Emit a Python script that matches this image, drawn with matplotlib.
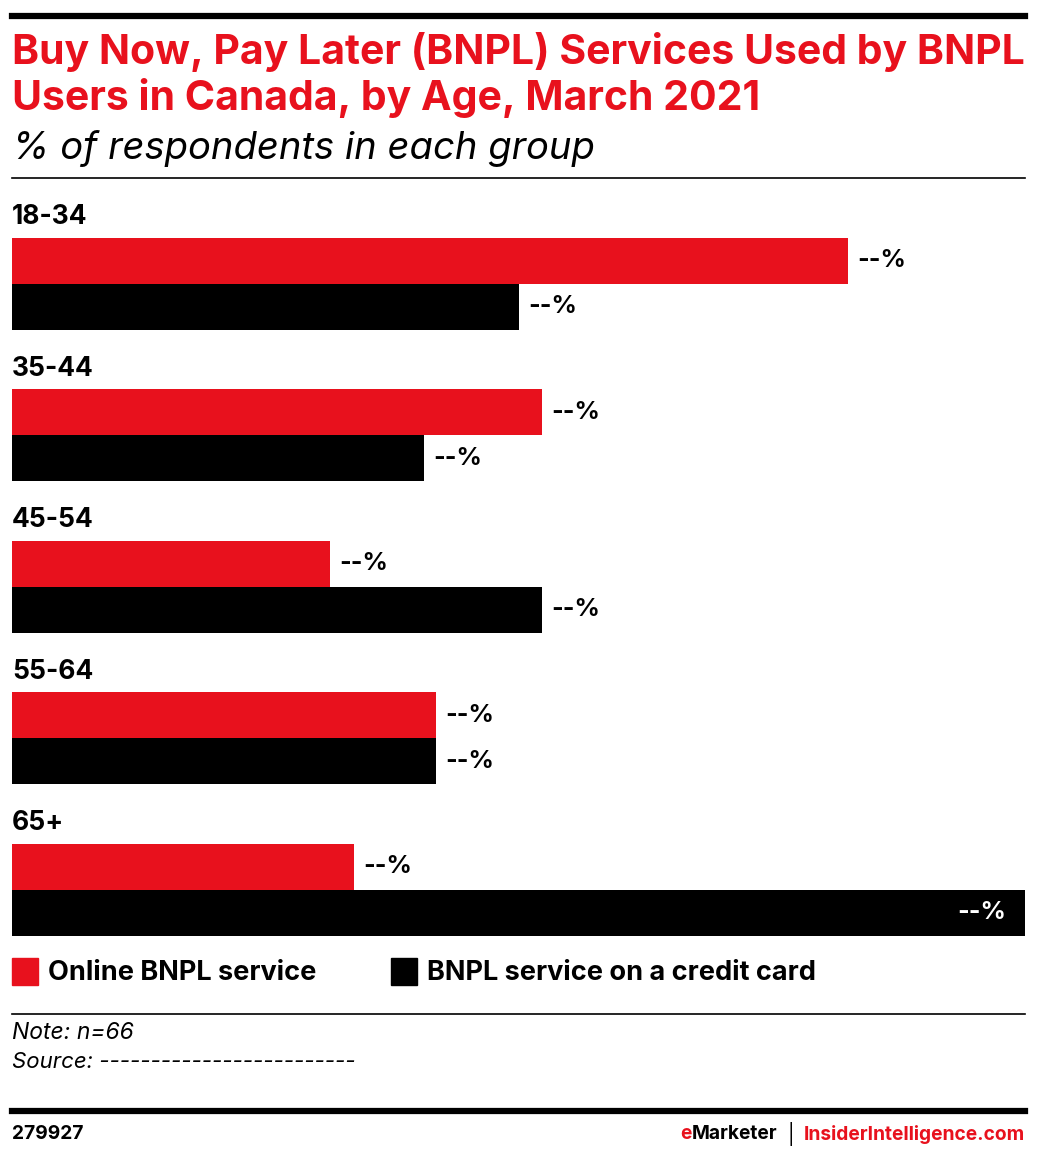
import matplotlib
matplotlib.use('Agg')
import matplotlib.pyplot as plt
import numpy as np

# values are hidden in the source ("--%")
ages = ['18-34', '35-44', '45-54', '55-64', '65+']
online_bnpl = [35.5, 22.5, 13.5, 18.0, 14.5]
credit_card_bnpl = [21.5, 17.5, 22.5, 18.0, 43.0]
series_names = ['Online BNPL service', 'BNPL service on a credit card']

RED = '#e8111d'
BLACK = '#000000'
W, H = 1038, 1158
FONT = 'Inter'


def fx(px):
    return px / W


def fy(py):
    return 1 - py / H


fig = plt.figure(figsize=(W / 100, H / 100), dpi=100)

# header
fig.add_artist(plt.Line2D([fx(12), fx(1025)], [fy(16), fy(16)], color=BLACK, lw=4.5))
fig.text(fx(12), fy(64), 'Buy Now, Pay Later (BNPL) Services Used by BNPL',
         color=RED, fontsize=29.5, fontweight='bold', family=FONT, va='baseline')
fig.text(fx(12), fy(110), 'Users in Canada, by Age, March 2021',
         color=RED, fontsize=29.5, fontweight='bold', family=FONT, va='baseline')
fig.text(fx(12), fy(159), '% of respondents in each group',
         color=BLACK, fontsize=27.5, style='italic', family=FONT, va='baseline')
fig.add_artist(plt.Line2D([fx(12), fx(1025)], [fy(178), fy(178)], color=BLACK, lw=1.2))

# bars
ax = fig.add_axes([fx(12), fy(940), fx(1025) - fx(12), (940 - 190) / H])
y = np.arange(len(ages))
bh = 46 / 151.5
ax.barh(y - bh / 2, online_bnpl, height=bh, color=RED, align='center')
ax.barh(y + bh / 2, credit_card_bnpl, height=bh, color=BLACK, align='center')
xmax = 43.0
ax.set_xlim(0, xmax)
ax.set_ylim(4 + 50.5 / 151.5, -93.5 / 151.5)
ax.axis('off')

for i, age in enumerate(ages):
    ax.text(0, i - 66.5 / 151.5, age, fontsize=19, fontweight='bold', family=FONT,
            va='center', ha='left')
    for val, off in ((online_bnpl[i], -bh / 2), (credit_card_bnpl[i], bh / 2)):
        if val >= xmax * 0.95:
            ax.text(val - 0.8, i + off, '--%', fontsize=18, fontweight='bold', family=FONT,
                    va='center', ha='right', color='white')
        else:
            ax.text(val + 0.4, i + off, '--%', fontsize=18, fontweight='bold', family=FONT,
                    va='center', ha='left', color=BLACK)

# legend
for x0, color, name in ((12, RED, series_names[0]), (391, BLACK, series_names[1])):
    fig.add_artist(plt.Rectangle((fx(x0), fy(985)), 26 / W, 27 / H, color=color))
    fig.text(fx(x0 + 36), fy(973), name, fontsize=19.5, fontweight='bold', family=FONT,
             va='center', ha='left')

# notes
fig.add_artist(plt.Line2D([fx(12), fx(1025)], [fy(1014), fy(1014)], color=BLACK, lw=1.2))
fig.text(fx(12), fy(1033), 'Note: n=66', fontsize=16.5, style='italic', family=FONT, va='center')
fig.text(fx(12), fy(1062), 'Source: -------------------------', fontsize=16, style='italic',
         family=FONT, va='center')

# footer
fig.add_artist(plt.Line2D([fx(12), fx(1025)], [fy(1111), fy(1111)], color=BLACK, lw=4.5))
fig.text(fx(12), fy(1134), '279927', fontsize=13.8, fontweight='bold', family=FONT, va='center')

renderer = fig.canvas.get_renderer()
x_right = 1025
# (text, colour, weight, gap to the piece on its right)
pieces = [('InsiderIntelligence.com', RED, 'bold', 0),
          ('|', BLACK, 'normal', 10),
          ('Marketer', BLACK, 'bold', 10),
          ('e', RED, 'bold', 0)]
for txt, color, weight, gap in pieces:
    x_right -= gap
    t = fig.text(fx(x_right), fy(1134), txt, fontsize=13.8, fontweight=weight, family=FONT,
                 va='center', ha='right', color=color)
    x_right -= t.get_window_extent(renderer).width

fig.savefig('out.png', dpi=100)
